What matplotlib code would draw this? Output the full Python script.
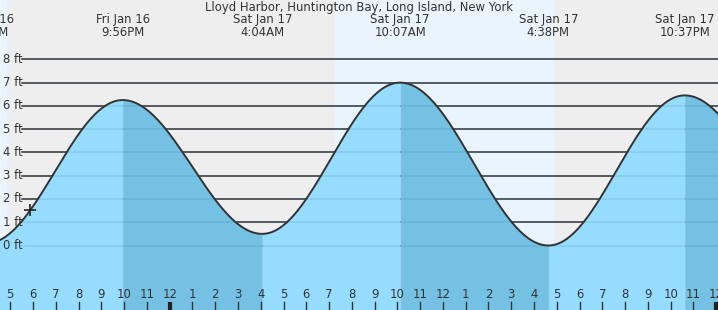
import matplotlib
matplotlib.use("Agg")
import matplotlib.pyplot as plt
import numpy as np

# Marées (heures depuis le 16 janv. 00:00)
tide_times = [15.98, 21.933, 28.067, 34.117, 40.633, 46.617, 52.9]
tide_heights = [0.1, 6.25, 0.5, 7.0, 0.0, 6.45, 0.3]
tide_labels = ["Fri Jan 16\n3:59PM", "Fri Jan 16\n9:56PM", "Sat Jan 17\n4:04AM",
               "Sat Jan 17\n10:07AM", "Sat Jan 17\n4:38PM", "Sat Jan 17\n10:37PM",
               "Sun Jan 18\n4:54AM"]

# Lever / coucher du soleil
day_spans = [(10.0, 16.86), (31.26, 40.91)]
night_spans = [(16.86, 31.26), (40.91, 55.0)]

now_time = 17.87

ft_levels = [0, 1, 2, 3, 4, 5, 6, 7, 8]
hour_ticks = list(range(17, 49))

title = "Lloyd Harbor, Huntington Bay, Long Island, New York"

# Couleurs
night_bg = "#eeeeee"
day_bg = "#eaf4fe"
flood_col = "#96dcfe"
ebb_col = "#74c1e4"
text_col = "#333333"
fs = 8.4

W, H = 718, 310
fig = plt.figure(figsize=(W / 100, H / 100), dpi=100)
ax = fig.add_axes([0, 0, 1, 1])

x0 = 17 - 10.3 / 22.77
x1 = x0 + W / 22.77
ax.set_xlim(x0, x1)
ax.set_ylim(-(H - 245.5) / 23.27, 245.5 / 23.27)
ax.axis("off")

for a, b in night_spans:
    ax.axvspan(a, b, color=night_bg, lw=0, zorder=0)
for a, b in day_spans:
    ax.axvspan(a, b, color=day_bg, lw=0, zorder=0)

# Courbe de marée (interpolation cosinus entre extrêmes)
t_all = []
h_all = []
for i in range(len(tide_times) - 1):
    ta, tb = tide_times[i], tide_times[i + 1]
    ha, hb = tide_heights[i], tide_heights[i + 1]
    tt = np.linspace(ta, tb, 120)
    hh = ha + (hb - ha) * (1 - np.cos(np.pi * (tt - ta) / (tb - ta))) / 2
    t_all.append(tt)
    h_all.append(hh)
    col = flood_col if hb > ha else ebb_col
    ax.fill_between(tt, -5, hh, color=col, lw=0, zorder=2)
t_all = np.concatenate(t_all)
h_all = np.concatenate(h_all)

# Lignes horizontales
gx = 22 / W
for lv in ft_levels:
    ax.axhline(lv, xmin=gx, xmax=1, color=text_col, lw=1.1, zorder=1)
    ax.axhline(lv, xmin=gx, xmax=1, color="#1a5a80", lw=1.1, alpha=0.12, zorder=3)
    ax.text(3 / W, lv, f"{lv} ft", transform=ax.get_yaxis_transform(),
            ha="left", va="center", fontsize=fs, color=text_col, zorder=5)

ax.plot(t_all, h_all, color=text_col, lw=1.4, zorder=4)

now_h = np.interp(now_time, t_all, h_all)
ax.plot([now_time], [now_h], marker="+", ms=9, mew=1.2, color="#222222", zorder=6)

# Étiquettes des extrêmes
xt = ax.get_xaxis_transform()
for t, lab in zip(tide_times, tide_labels):
    ax.text(t, 1 - 26 / H, lab, transform=xt, ha="center", va="center",
            fontsize=fs, color=text_col, linespacing=0.98, zorder=5)

ax.text(0.5, 1 - 8 / H, title, transform=ax.transAxes, ha="center", va="center",
        fontsize=fs, color=text_col, zorder=5)

# Heures en bas
for hr in hour_ticks:
    lab = str((hr - 1) % 12 + 1)
    ax.text(hr, 15 / H, lab, transform=xt, ha="center", va="center",
            fontsize=fs, color=text_col, zorder=5)
    if hr % 24 == 0:
        ax.plot([hr, hr], [0, 8 / H], transform=xt, color="#222222", lw=3.0,
                solid_capstyle="butt", zorder=5)
    else:
        ax.plot([hr, hr], [0, 8 / H], transform=xt, color=text_col, lw=1.0,
                zorder=5)

fig.savefig("out.png", dpi=100)
